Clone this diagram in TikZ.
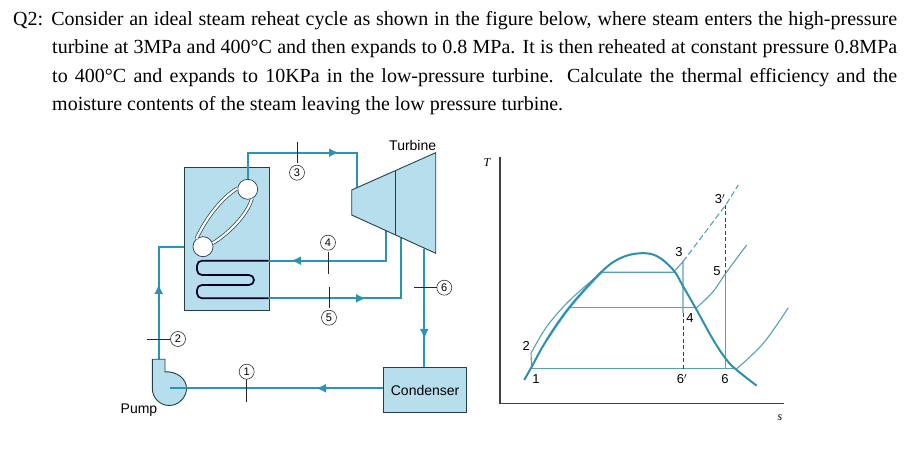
\documentclass[tikz,border=0pt]{standalone}
\usepackage{fontspec}
\setmainfont{Liberation Serif}
\setsansfont{Liberation Sans}
\usepackage{tikz}
\usetikzlibrary{arrows.meta}
\definecolor{pipeblue}{HTML}{2B93B5}
\definecolor{partblue}{HTML}{B6DEEC}
\definecolor{edgedark}{HTML}{23404A}
\definecolor{domeblue}{HTML}{2C8FAE}
\definecolor{thinteal}{HTML}{5C9FAE}
\tikzset{>={Latex[length=10pt,width=9pt]}, x=1pt, y=-1pt, font=\fontsize{14}{14}\selectfont\sffamily}
\tikzstyle{block} = [draw=edgedark, fill=partblue, line width=0.9pt, rectangle, inner sep=0pt, anchor=north west]
\tikzstyle{pipe} = [draw=pipeblue, line width=2.1pt]
\tikzstyle{drum} = [draw=edgedark, fill=white, circle, line width=0.7pt, minimum size=20pt, inner sep=0pt]
\tikzstyle{tube} = [draw=edgedark, line width=0.7pt, double=white, double distance=2.2pt]
\tikzstyle{coil} = [draw=black!85!blue, line width=1.7pt, rounded corners=5pt]
\tikzstyle{state} = [draw=black!80, fill=white, circle, line width=0.6pt, minimum size=15pt, inner sep=0pt, font=\fontsize{11}{11}\selectfont\sffamily]
\tikzstyle{tick} = [draw=black!85, line width=0.7pt]
\tikzstyle{dome} = [draw=domeblue, line width=2pt]
\tikzstyle{thin} = [draw=thinteal, line width=1.1pt]
\tikzstyle{blackdash} = [draw=black!75, line width=1pt, dashed]
\tikzstyle{point} = [font=\fontsize{13}{13}\selectfont\sffamily, inner sep=0pt]
\begin{document}
\begin{tikzpicture}
	\useasboundingbox (0,0) rectangle (922,449);
	\node [font=\fontsize{20}{28.5}\selectfont\rmfamily, text width=884pt, align=justify, inner sep=0pt, anchor=north west] (question) at (13,11) {\hangindent=39pt \hangafter=1 Q2: Consider an ideal steam reheat cycle as shown in the figure below, where steam enters the high-pressure\linebreak turbine at 3MPa and 400°C and then expands to 0.8 MPa. It is then reheated at constant pressure 0.8MPa\linebreak to 400°C and expands to 10KPa in the low-pressure turbine. Calculate the thermal efficiency and the\linebreak moisture contents of the steam leaving the low pressure turbine.\par};

	% plant
	\node [block, minimum width=85pt, minimum height=143.3pt] (boiler) at (183.7,166.7) {};
	\node [block, minimum width=82.7pt, minimum height=45pt] (condenser) at (383.3,367.3) {Condenser};
	\node [drum] (updrum) at (247.7,189.3) {};
	\node [drum] (lowdrum) at (203,246.7) {};
	\draw [tube] (lowdrum.130) .. controls (206.7,216.7) and (223,196.7) .. (updrum.175);
	\draw [tube] (lowdrum.20) .. controls (225,236) and (246.7,216.7) .. (updrum.-66);

	\coordinate (in4) at (268.7,260.7);
	\coordinate (out5) at (268.7,298.3);
	\draw [coil] (in4) -- (197,260.7) -- (197,275) -- (254,275) -- (254,285) -- (197,285) -- (197,298.3) -- (out5);

	\coordinate (t3top) at (247.7,152.7);
	\coordinate (t3in) at (356.7,152.7);
	\coordinate (t3end) at (356.7,188);
	\coordinate (hp4) at (385.7,231);
	\coordinate (c4) at (385.7,260.7);
	\coordinate (lp5) at (401,238);
	\coordinate (c5) at (401,298.3);
	\coordinate (lp6) at (424.3,249);
	\coordinate (boil2) at (183.7,247.3);
	\coordinate (c2) at (158.7,247.3);
	\coordinate (pumpout) at (158.7,359.3);
	\coordinate (pumpin) at (170,388.3);

	\draw [pipe] (updrum.north) -- (t3top) -- (t3in) -- (t3end);
	\draw [pipe, ->] (t3top) -- (339,152.7);
	\draw [pipe] (hp4) -- (c4) -- (in4);
	\draw [pipe, ->] (c4) -- (291,260.7);
	\draw [pipe] (out5) -- (c5) -- (lp5);
	\draw [pipe, ->] (out5) -- (366,298.3);
	\draw [pipe] (lp6) -- (lp6 |- condenser.north);
	\draw [pipe, ->] (lp6) -- (424.3,339);
	\draw [pipe] (pumpout) -- (c2) -- (boil2);
	\draw [pipe, ->] (pumpout) -- (158.7,284);
	\draw [pipe] (condenser.west |- pumpin) -- (pumpin);
	\draw [pipe, ->] (condenser.west |- pumpin) -- (316,388.3);

	% turbine
	\draw [draw=edgedark, fill=partblue, line width=0.9pt] (351.7,190) coordinate (tura) -- (435.7,152.7) -- (435.7,253.3) -- (351.7,215) -- cycle;
	\coordinate (divtop) at (395,171.2);
	\coordinate (divbot) at (395,234.7);
	\draw [draw=edgedark, line width=1pt] (divtop) -- (divbot);
	\node (turbine) at (412.7,145.5) {Turbine};

	% pump
	\draw [draw=edgedark, fill=partblue, line width=0.9pt] (152.3,359.3) -- (165,359.3) -- (165,371.8) .. controls (176,371.2) and (186.5,378) .. (186.5,388.3) .. controls (186.5,398) and (178,405.5) .. (169.3,405.5) .. controls (160,405.5) and (152.3,398) .. (152.3,388.3) -- cycle;
	\draw [pipe] (pumpin) -- (186.5,388.3);
	\node (pump) at (139,410) {Pump};

	% states
	\node [state] (s1) at (246.7,371.7) {1};
	\node [state] (s2) at (178,339) {2};
	\node [state] (s3) at (297,172.7) {3};
	\node [state] (s4) at (328,242.7) {4};
	\node [state] (s5) at (329,317.7) {5};
	\node [state] (s6) at (444.3,287.7) {6};
	\coordinate (m1) at (246.7,401.7);
	\coordinate (m2) at (147.3,339);
	\coordinate (m3) at (297,141.7);
	\coordinate (m4) at (328,274);
	\coordinate (m5) at (329,287);
	\coordinate (m6) at (414,287.7);
	\draw [tick] (m1) -- (s1);
	\draw [tick] (m2) -- (s2);
	\draw [tick, shorten >=2pt] (m3) -- (s3);
	\draw [tick, shorten >=1.5pt] (m4) -- (s4);
	\draw [tick, shorten >=2pt] (m5) -- (s5);
	\draw [tick] (m6) -- (s6);

	% T-s chart
	\coordinate (origin) at (500,403.3);
	\draw [draw=black!75, line width=1.1pt] (500,156.7) -- (origin) -- (784,403.3);
	\node [font=\fontsize{12}{12}\selectfont\rmfamily\itshape] (taxis) at (487,163) {T};
	\node [font=\fontsize{12}{12}\selectfont\rmfamily\itshape] (saxis) at (780,418) {s};

	\coordinate (p1) at (531.7,368.7);
	\coordinate (p2) at (531,353.3);
	\coordinate (p3) at (683,261.7);
	\coordinate (p4) at (683,313);
	\coordinate (p5) at (725.7,273.3);
	\coordinate (p6) at (725.7,368.7);
	\coordinate (p6a) at (683,368.7);
	\coordinate (p3a) at (725.7,205);
	\coordinate (upL) at (601.7,272.3);
	\coordinate (upR) at (673.3,272.3);
	\coordinate (midL) at (570,307.7);
	\coordinate (midR) at (696.7,307.7);
	\coordinate (lowR) at (736.7,368.7);

	\draw [draw=partblue, line width=3pt] plot [smooth, tension=0.6] coordinates {(546.7,340) (570,306.7) (601.7,271.7)};
	\draw [thin] plot [smooth, tension=0.6] coordinates {(p2) (546.7,326.7) (570,300) (upL)};
	\draw [thin] (p1) -- (p2);
	\draw [thin] (upL) -- (upR) -- (p3) -- (p4);
	\draw [thin] (midL) -- (midR);
	\draw [thin] (p1) -- (lowR);
	\draw [thin] (p5) -- (p6);
	\draw [thin] plot [smooth, tension=0.6] coordinates {(midR) (713,291.7) (p5) (746.7,245)};
	\draw [thin] plot [smooth, tension=0.6] coordinates {(lowR) (763.3,343.3) (788.3,307.7)};
	\draw [thin, dash pattern=on 6pt off 3pt] (p3) -- (p3a) -- (738.3,185);
	\draw [blackdash, dash pattern=on 4pt off 2.5pt] (p4) -- (p6a);
	\draw [blackdash, dash pattern=on 4pt off 2.5pt] (p3a) -- (p5);
	\draw [dome] plot [smooth, tension=0.6] coordinates {(524.3,380) (531.7,366.7) (546.7,340) (570,306.7) (601.7,271.7) (620,258.3) (639.3,253.3) (656.7,256) (673.3,270) (683.3,286.7) (696.7,310) (713.3,340) (726.7,360) (736.7,370) (756.7,385.7)};

	\node [point] (l1) at (536,379) {1};
	\node [point] (l2) at (526.3,345.7) {2};
	\node [point] (l3) at (679,252.3) {3};
	\node [point] (l3a) at (720,199) {3$'$};
	\node [point] (l4) at (690,318.3) {4};
	\node [point] (l5) at (717,270.7) {5};
	\node [point] (l6) at (725,379.3) {6};
	\node [point] (l6a) at (682,379.3) {6$'$};
\end{tikzpicture}
\end{document}
